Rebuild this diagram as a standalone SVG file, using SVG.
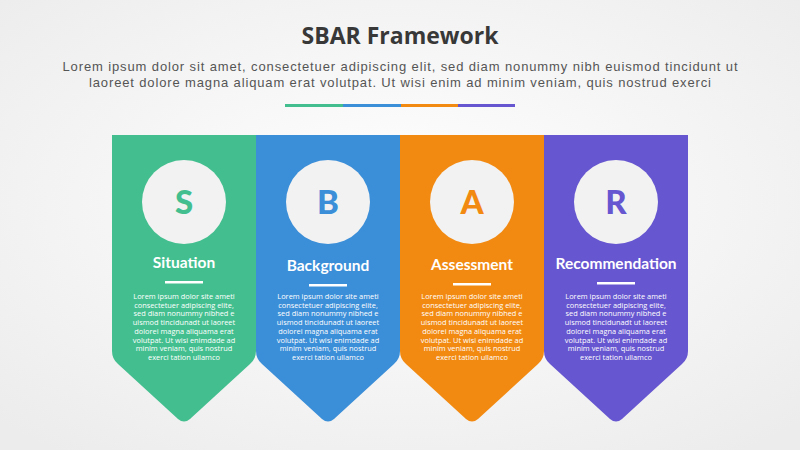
<svg xmlns="http://www.w3.org/2000/svg" width="800" height="450" viewBox="0 0 800 450">
<defs>
<radialGradient id="bg" cx="50%" cy="45%" r="70%">
<stop offset="0" stop-color="#ffffff"/>
<stop offset="1" stop-color="#ececec"/>
</radialGradient>
<path id="col" d="M0,0 H144 V216 Q144,224 138,229 L78,284 Q72,289 66,284 L6,229 Q0,224 0,216 Z"/>
</defs>
<style>
.title{font-family:"Open Sans",sans-serif;font-weight:700;font-size:23px;fill:#383838;text-anchor:middle}
.sub{font-family:"Liberation Sans",sans-serif;font-size:13px;fill:#555555;text-anchor:middle}
.letter{font-family:Lato,sans-serif;font-weight:900;font-size:33px;text-anchor:middle}
.head{font-family:Lato,sans-serif;font-weight:700;font-size:15.5px;fill:#ffffff;text-anchor:middle}
.body{font-family:"Open Sans",sans-serif;font-size:7.4px;fill:#ffffff;text-anchor:middle}
.circ{fill:#f2f2f2}
.bar{fill:#ffffff}
</style>
<rect width="800" height="450" fill="url(#bg)"/>
<g id="header">
<text class="title" x="400" y="44">SBAR Framework</text>
<text class="sub" x="400" y="71" textLength="675" lengthAdjust="spacing">Lorem ipsum dolor sit amet, consectetuer adipiscing elit, sed diam nonummy nibh euismod tincidunt ut</text>
<text class="sub" x="400" y="87" textLength="622" lengthAdjust="spacing">laoreet dolore magna aliquam erat volutpat. Ut wisi enim ad minim veniam, quis nostrud exerci</text>
<rect x="285" y="104" width="58" height="3" fill="#43bf8f"/>
<rect x="343" y="104" width="58" height="3" fill="#3b8ed8"/>
<rect x="401" y="104" width="57" height="3" fill="#f28a12"/>
<rect x="458" y="104" width="57" height="3" fill="#6656d0"/>
</g>
<g id="connectors"></g>
<g id="node-s" transform="translate(112,135)">
<use href="#col" fill="#43bf8f"/>
<circle class="circ" cx="72" cy="67" r="42"/>
<text class="letter" x="72" y="79" fill="#43bf8f">S</text>
<text class="head" x="72" y="133">Situation</text>
<rect class="bar" x="53" y="146" width="38" height="2.5"/>
<text class="body" x="72" y="164">Lorem ipsum dolor site ameti</text>
<text class="body" x="72" y="172.7">consectetuer adipiscing elite,</text>
<text class="body" x="72" y="181.4">sed diam nonummy nibhed e</text>
<text class="body" x="72" y="190.1">uismod tincidunadt ut laoreet</text>
<text class="body" x="72" y="198.8">dolorei magna aliquama erat</text>
<text class="body" x="72" y="207.5">volutpat. Ut wisi enimdade ad</text>
<text class="body" x="72" y="216.2">minim veniam, quis nostrud</text>
<text class="body" x="72" y="224.9">exerci tation ullamco</text>
</g>
<g id="node-b" transform="translate(256,135)">
<use href="#col" fill="#3b8ed8"/>
<circle class="circ" cx="72" cy="67" r="42"/>
<text class="letter" x="72" y="79" fill="#3b8ed8">B</text>
<text class="head" x="72" y="136">Background</text>
<rect class="bar" x="53" y="149" width="38" height="2.5"/>
<text class="body" x="72" y="164">Lorem ipsum dolor site ameti</text>
<text class="body" x="72" y="172.7">consectetuer adipiscing elite,</text>
<text class="body" x="72" y="181.4">sed diam nonummy nibhed e</text>
<text class="body" x="72" y="190.1">uismod tincidunadt ut laoreet</text>
<text class="body" x="72" y="198.8">dolorei magna aliquama erat</text>
<text class="body" x="72" y="207.5">volutpat. Ut wisi enimdade ad</text>
<text class="body" x="72" y="216.2">minim veniam, quis nostrud</text>
<text class="body" x="72" y="224.9">exerci tation ullamco</text>
</g>
<g id="node-a" transform="translate(400,135)">
<use href="#col" fill="#f28a12"/>
<circle class="circ" cx="72" cy="67" r="42"/>
<text class="letter" x="72" y="79" fill="#f28a12">A</text>
<text class="head" x="72" y="135">Assessment</text>
<rect class="bar" x="53" y="148" width="38" height="2.5"/>
<text class="body" x="72" y="164">Lorem ipsum dolor site ameti</text>
<text class="body" x="72" y="172.7">consectetuer adipiscing elite,</text>
<text class="body" x="72" y="181.4">sed diam nonummy nibhed e</text>
<text class="body" x="72" y="190.1">uismod tincidunadt ut laoreet</text>
<text class="body" x="72" y="198.8">dolorei magna aliquama erat</text>
<text class="body" x="72" y="207.5">volutpat. Ut wisi enimdade ad</text>
<text class="body" x="72" y="216.2">minim veniam, quis nostrud</text>
<text class="body" x="72" y="224.9">exerci tation ullamco</text>
</g>
<g id="node-r" transform="translate(544,135)">
<use href="#col" fill="#6656d0"/>
<circle class="circ" cx="72" cy="67" r="42"/>
<text class="letter" x="72" y="79" fill="#6656d0">R</text>
<text class="head" x="72" y="134">Recommendation</text>
<rect class="bar" x="53" y="147" width="38" height="2.5"/>
<text class="body" x="72" y="164">Lorem ipsum dolor site ameti</text>
<text class="body" x="72" y="172.7">consectetuer adipiscing elite,</text>
<text class="body" x="72" y="181.4">sed diam nonummy nibhed e</text>
<text class="body" x="72" y="190.1">uismod tincidunadt ut laoreet</text>
<text class="body" x="72" y="198.8">dolorei magna aliquama erat</text>
<text class="body" x="72" y="207.5">volutpat. Ut wisi enimdade ad</text>
<text class="body" x="72" y="216.2">minim veniam, quis nostrud</text>
<text class="body" x="72" y="224.9">exerci tation ullamco</text>
</g>
</svg>
